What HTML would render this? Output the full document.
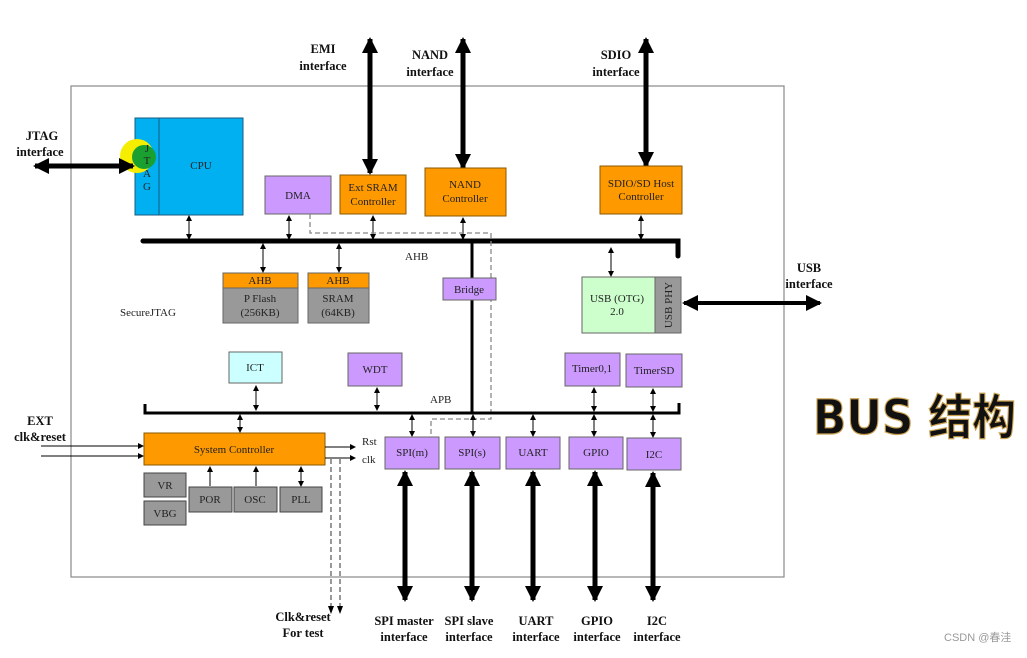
<!DOCTYPE html><html><head><meta charset="utf-8"><style>
body{margin:0;background:#fff}
svg text{font-family:"Liberation Serif","Noto Serif CJK SC",serif;font-size:11px;fill:#222}
.b{font-weight:bold;font-size:12.5px;fill:#111}
</style></head><body>
<svg width="1027" height="653" viewBox="0 0 1027 653" xmlns="http://www.w3.org/2000/svg">
<defs>
<marker id="a" markerWidth="6" markerHeight="6" refX="5" refY="3" orient="auto" markerUnits="userSpaceOnUse"><path d="M0,0L6,3L0,6z" fill="#000"/></marker>
<marker id="as" markerWidth="6" markerHeight="6" refX="1" refY="3" orient="auto" markerUnits="userSpaceOnUse"><path d="M6,0L0,3L6,6z" fill="#000"/></marker>
<marker id="A" markerWidth="16" markerHeight="16" refX="14" refY="8" orient="auto" markerUnits="userSpaceOnUse"><path d="M0,0L16,8L0,16z" fill="#000"/></marker>
<marker id="AS" markerWidth="16" markerHeight="16" refX="2" refY="8" orient="auto" markerUnits="userSpaceOnUse"><path d="M16,0L0,8L16,16z" fill="#000"/></marker>
</defs>
<rect x="71" y="86" width="713" height="491" fill="none" stroke="#888" stroke-width="1.2"/>
<!-- CPU -->
<rect x="135" y="118" width="108" height="97" fill="#00b0f0" stroke="#1a5a80"/>
<line x1="159" y1="118" x2="159" y2="215" stroke="#1a5a80"/>
<circle cx="137" cy="156" r="17" fill="#f5ee00"/>
<circle cx="144" cy="157" r="12" fill="#1aa030"/>
<text x="201" y="169" text-anchor="middle">CPU</text>
<text x="147" y="152" text-anchor="middle">J</text><text x="147" y="164" text-anchor="middle">T</text><text x="147" y="177" text-anchor="middle">A</text><text x="147" y="190" text-anchor="middle">G</text>
<line x1="35" y1="166" x2="133" y2="166" stroke="#000" stroke-width="5" marker-end="url(#A)" marker-start="url(#AS)"/>
<text class="b" x="42" y="140" text-anchor="middle">JTAG</text><text class="b" x="40" y="156" text-anchor="middle">interface</text>
<!-- top interfaces -->
<text class="b" x="323" y="53" text-anchor="middle">EMI</text><text class="b" x="323" y="70" text-anchor="middle">interface</text>
<text class="b" x="430" y="59" text-anchor="middle">NAND</text><text class="b" x="430" y="76" text-anchor="middle">interface</text>
<text class="b" x="616" y="59" text-anchor="middle">SDIO</text><text class="b" x="616" y="76" text-anchor="middle">interface</text>
<line x1="370" y1="39" x2="370" y2="173" stroke="#000" stroke-width="5" marker-end="url(#A)" marker-start="url(#AS)"/>
<line x1="463" y1="39" x2="463" y2="168" stroke="#000" stroke-width="5" marker-end="url(#A)" marker-start="url(#AS)"/>
<line x1="646" y1="39" x2="646" y2="166" stroke="#000" stroke-width="5" marker-end="url(#A)" marker-start="url(#AS)"/>
<rect x="265" y="176" width="66" height="38" fill="#cc99ff" stroke="#666"/><text x="298" y="199" text-anchor="middle">DMA</text>
<rect x="340" y="175" width="66" height="39" fill="#ff9900" stroke="#8a5a00"/><text x="373" y="191" text-anchor="middle">Ext SRAM</text><text x="373" y="205" text-anchor="middle">Controller</text>
<rect x="425" y="168" width="81" height="48" fill="#ff9900" stroke="#8a5a00"/><text x="465" y="188" text-anchor="middle">NAND</text><text x="465" y="202" text-anchor="middle">Controller</text>
<rect x="600" y="166" width="82" height="48" fill="#ff9900" stroke="#8a5a00"/><text x="641" y="187" text-anchor="middle">SDIO/SD Host</text><text x="641" y="200" text-anchor="middle">Controller</text>
<!-- AHB -->
<path d="M143,241H678V256" fill="none" stroke="#000" stroke-width="5" stroke-linecap="round"/>
<text x="405" y="260" font-size="13">AHB</text>
<g stroke="#000" stroke-width="1" marker-end="url(#a)" marker-start="url(#as)">
<line x1="189" y1="216" x2="189" y2="239"/><line x1="289" y1="216" x2="289" y2="239"/><line x1="373" y1="216" x2="373" y2="239"/><line x1="463" y1="218" x2="463" y2="239"/><line x1="641" y1="216" x2="641" y2="239"/>
<line x1="263" y1="244" x2="263" y2="272"/><line x1="339" y1="244" x2="339" y2="272"/><line x1="611" y1="248" x2="611" y2="276"/>
</g>
<rect x="223" y="273" width="75" height="15" fill="#ff9900" stroke="#666"/><text x="260" y="284" text-anchor="middle">AHB</text>
<rect x="223" y="288" width="75" height="35" fill="#999" stroke="#666"/><text x="260" y="302" text-anchor="middle">P Flash</text><text x="260" y="316" text-anchor="middle">(256KB)</text>
<rect x="308" y="273" width="61" height="15" fill="#ff9900" stroke="#666"/><text x="338" y="284" text-anchor="middle">AHB</text>
<rect x="308" y="288" width="61" height="35" fill="#999" stroke="#666"/><text x="338" y="302" text-anchor="middle">SRAM</text><text x="338" y="316" text-anchor="middle">(64KB)</text>
<text x="120" y="316" font-size="9">SecureJTAG</text>
<!-- bridge -->
<line x1="472" y1="241" x2="472" y2="412" stroke="#000" stroke-width="3"/>
<path d="M310,214V233H491V419H431V437" fill="none" stroke="#888" stroke-width="1.3" stroke-dasharray="5,3"/>
<rect x="443" y="278" width="53" height="22" fill="#cc99ff" stroke="#666"/><text x="469" y="293" text-anchor="middle">Bridge</text>
<!-- USB -->
<rect x="582" y="277" width="73" height="56" fill="#ccffcc" stroke="#666"/><rect x="655" y="277" width="26" height="56" fill="#999" stroke="#666"/>
<text x="617" y="302" text-anchor="middle">USB (OTG)</text><text x="617" y="315" text-anchor="middle">2.0</text>
<text transform="translate(672,305) rotate(-90)" text-anchor="middle" font-size="10.5">USB PHY</text>
<line x1="684" y1="303" x2="820" y2="303" stroke="#000" stroke-width="4" marker-end="url(#A)" marker-start="url(#AS)"/>
<text class="b" x="809" y="272" text-anchor="middle">USB</text><text class="b" x="809" y="288" text-anchor="middle">interface</text>
<!-- APB -->
<path d="M145,404V413H679V403" fill="none" stroke="#000" stroke-width="3"/>
<text x="430" y="403" font-size="13">APB</text>
<rect x="229" y="352" width="53" height="31" fill="#ccffff" stroke="#666"/><text x="255" y="371" text-anchor="middle">ICT</text>
<rect x="348" y="353" width="54" height="33" fill="#cc99ff" stroke="#666"/><text x="375" y="373" text-anchor="middle">WDT</text>
<rect x="565" y="353" width="55" height="33" fill="#cc99ff" stroke="#666"/><text x="592" y="372" text-anchor="middle">Timer0,1</text>
<rect x="626" y="354" width="56" height="33" fill="#cc99ff" stroke="#666"/><text x="654" y="374" text-anchor="middle">TimerSD</text>
<g stroke="#000" stroke-width="1" marker-end="url(#a)" marker-start="url(#as)">
<line x1="256" y1="386" x2="256" y2="410"/><line x1="377" y1="388" x2="377" y2="410"/><line x1="594" y1="388" x2="594" y2="411"/><line x1="653" y1="389" x2="653" y2="411"/>
<line x1="240" y1="415" x2="240" y2="432"/><line x1="412" y1="415" x2="412" y2="436"/><line x1="473" y1="415" x2="473" y2="436"/><line x1="533" y1="415" x2="533" y2="436"/><line x1="594" y1="415" x2="594" y2="436"/><line x1="653" y1="415" x2="653" y2="437"/>
<line x1="301" y1="467" x2="301" y2="486"/>
</g>
<rect x="385" y="437" width="54" height="32" fill="#cc99ff" stroke="#666"/><text x="412" y="456" text-anchor="middle">SPI(m)</text>
<rect x="445" y="437" width="55" height="32" fill="#cc99ff" stroke="#666"/><text x="472" y="456" text-anchor="middle">SPI(s)</text>
<rect x="506" y="437" width="54" height="32" fill="#cc99ff" stroke="#666"/><text x="533" y="456" text-anchor="middle">UART</text>
<rect x="569" y="437" width="54" height="32" fill="#cc99ff" stroke="#666"/><text x="596" y="456" text-anchor="middle">GPIO</text>
<rect x="627" y="438" width="54" height="32" fill="#cc99ff" stroke="#666"/><text x="654" y="458" text-anchor="middle">I2C</text>
<g stroke="#000" stroke-width="5" marker-end="url(#A)" marker-start="url(#AS)">
<line x1="405" y1="472" x2="405" y2="600"/><line x1="472" y1="472" x2="472" y2="600"/><line x1="533" y1="472" x2="533" y2="600"/><line x1="595" y1="472" x2="595" y2="600"/><line x1="653" y1="473" x2="653" y2="600"/>
</g>
<text class="b" x="404" y="625" text-anchor="middle">SPI master</text><text class="b" x="404" y="641" text-anchor="middle">interface</text>
<text class="b" x="469" y="625" text-anchor="middle">SPI slave</text><text class="b" x="469" y="641" text-anchor="middle">interface</text>
<text class="b" x="536" y="625" text-anchor="middle">UART</text><text class="b" x="536" y="641" text-anchor="middle">interface</text>
<text class="b" x="597" y="625" text-anchor="middle">GPIO</text><text class="b" x="597" y="641" text-anchor="middle">interface</text>
<text class="b" x="657" y="625" text-anchor="middle">I2C</text><text class="b" x="657" y="641" text-anchor="middle">interface</text>
<!-- system controller -->
<rect x="144" y="433" width="181" height="32" fill="#ff9900" stroke="#8a5a00"/><text x="234" y="453" text-anchor="middle">System Controller</text>
<text class="b" x="40" y="425" text-anchor="middle">EXT</text><text class="b" x="40" y="441" text-anchor="middle">clk&amp;reset</text>
<g stroke="#000" stroke-width="1" marker-end="url(#a)">
<line x1="41" y1="446" x2="143" y2="446"/><line x1="41" y1="456" x2="143" y2="456"/>
<line x1="325" y1="447" x2="355" y2="447"/><line x1="325" y1="458" x2="355" y2="458"/>
<line x1="210" y1="486" x2="210" y2="467"/><line x1="256" y1="486" x2="256" y2="467"/>
</g>
<text x="362" y="445">Rst</text><text x="362" y="463">clk</text>
<g stroke="#555" stroke-width="1.2" stroke-dasharray="5,3"><line x1="331" y1="459" x2="331" y2="608"/><line x1="340" y1="459" x2="340" y2="608"/></g>
<path d="M328,606L331,614L334,606zM337,606L340,614L343,606z" fill="#000"/>
<text class="b" x="303" y="621" text-anchor="middle">Clk&amp;reset</text><text class="b" x="303" y="637" text-anchor="middle">For test</text>
<g fill="#999" stroke="#444">
<rect x="144" y="473" width="42" height="24"/><rect x="144" y="501" width="42" height="24"/>
<rect x="189" y="487" width="43" height="25"/><rect x="234" y="487" width="43" height="25"/><rect x="280" y="487" width="42" height="25"/>
</g>
<text x="165" y="489" text-anchor="middle">VR</text><text x="165" y="517" text-anchor="middle">VBG</text>
<text x="210" y="503" text-anchor="middle">POR</text><text x="255" y="503" text-anchor="middle">OSC</text><text x="301" y="503" text-anchor="middle">PLL</text>
<!-- title -->
<text x="813" y="434" textLength="203" lengthAdjust="spacingAndGlyphs" style="font-family:'DejaVu Sans','Noto Sans CJK SC',sans-serif;font-size:48px;font-weight:bold;fill:#111;stroke:#c8a050;stroke-width:1.2">BUS 结构</text>
<text x="944" y="641" style="font-family:'Liberation Sans','Noto Sans CJK SC',sans-serif;font-size:11px;fill:#999">CSDN @春洼</text>
</svg></body></html>
